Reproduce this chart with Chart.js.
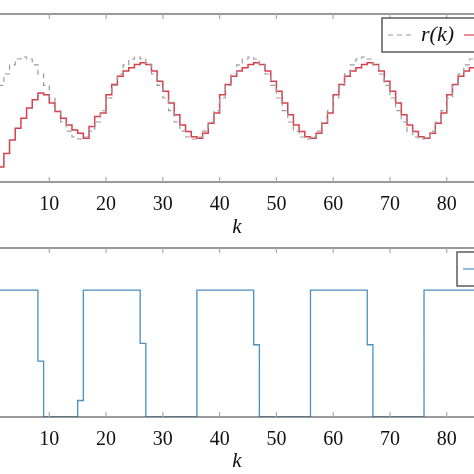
<!DOCTYPE html>
<html>
<head>
<meta charset="utf-8">
<script src="https://cdn.jsdelivr.net/npm/chart.js@4"></script>
<style>
  body { margin: 0; background: #fff; }
  canvas { display: block; }
</style>
</head>
<body>
<div style="width:474px;height:240px"><canvas id="top"></canvas></div>
<div style="width:474px;height:234px"><canvas id="bottom"></canvas></div>
<script>
// sample index
const k = []
for (let i = 0; i <= 86; i++) k.push(i)
// reference r(k), one period of 20 samples, repeated
const rCycle = [0.5, 0.575, 0.643, 0.697, 0.732, 0.744, 0.732, 0.697, 0.643, 0.575,
                0.5, 0.425, 0.357, 0.303, 0.268, 0.256, 0.268, 0.303, 0.357, 0.425]
const r = k.map(i => rCycle[i % 20])
// output y(k): start-up then steady cycle
const yStart = [0.05, 0.09, 0.17, 0.25, 0.32, 0.38, 0.44, 0.49, 0.53, 0.52,
                0.47, 0.42, 0.38, 0.34, 0.31, 0.29, 0.26, 0.33, 0.39]
const yCycle = [0.52, 0.58, 0.63, 0.66, 0.68, 0.70, 0.71, 0.70, 0.66, 0.60,
                0.54, 0.47, 0.40, 0.34, 0.30, 0.27, 0.26, 0.29, 0.35, 0.41]
const y = k.map(i => i < yStart.length ? yStart[i] : yCycle[(i - 20 + 200) % 20])
// input u(k)
const u = [1, 1, 1, 1, 1, 1, 1, 1, 0.44, 0, 0, 0, 0, 0, 0, 0.13, 1, 1, 1, 1,
           1, 1, 1, 1, 1, 1, 0.58, 0, 0, 0, 0, 0, 0, 0, 0, 0, 1, 1, 1, 1,
           1, 1, 1, 1, 1, 1, 0.57, 0, 0, 0, 0, 0, 0, 0, 0, 0, 1, 1, 1, 1,
           1, 1, 1, 1, 1, 1, 0.57, 0, 0, 0, 0, 0, 0, 0, 0, 0, 1, 1, 1, 1,
           1, 1, 1, 1, 1, 1, 1]
const xTicks = [10, 20, 30, 40, 50, 60, 70, 80]

const serif = '"Liberation Serif", "DejaVu Serif", serif'
const pts = arr => arr.map((v, i) => ({ x: k[i], y: v }))

// frame with inward ticks and a hand drawn legend
function framePlugin(legend) {
  return {
    id: 'frame',
    afterDraw(chart) {
      const { ctx, chartArea: a, scales } = chart
      ctx.save()
      ctx.strokeStyle = '#555'
      ctx.lineWidth = 1.2
      ctx.strokeRect(a.left - 2, a.top, a.right - a.left + 10, a.bottom - a.top)
      ctx.strokeStyle = '#aaa'
      xTicks.forEach(t => {
        const px = scales.x.getPixelForValue(t)
        ctx.beginPath()
        ctx.moveTo(px, a.top); ctx.lineTo(px, a.top + 5)
        ctx.moveTo(px, a.bottom); ctx.lineTo(px, a.bottom - 5)
        ctx.stroke()
      })
      // legend box
      ctx.fillStyle = '#fff'
      ctx.strokeStyle = '#333'
      ctx.fillRect(legend.x, a.top + 4, 200, 34)
      ctx.strokeRect(legend.x, a.top + 4, 200, 34)
      const cy = a.top + 21
      legend.items.forEach(it => {
        ctx.strokeStyle = it.color
        ctx.lineWidth = 1.2
        ctx.setLineDash(it.dash || [])
        ctx.beginPath()
        ctx.moveTo(it.x, cy); ctx.lineTo(it.x + 26, cy)
        ctx.stroke()
        ctx.setLineDash([])
        if (it.text) {
          ctx.fillStyle = '#111'
          ctx.font = 'italic 22px ' + serif
          ctx.textBaseline = 'middle'
          ctx.fillText(it.text, it.x + 33, cy)
        }
      })
      ctx.restore()
    }
  }
}

function xScale(h) {
  return {
    type: 'linear', min: 1.32, max: 84.8,
    grid: { display: false }, border: { display: false },
    afterBuildTicks: s => { s.ticks = xTicks.map(v => ({ value: v })) },
    afterFit: s => { s.height = h },
    ticks: { color: '#111', font: { family: serif, size: 20 }, padding: 3, maxRotation: 0 },
    title: { display: true, text: 'k', color: '#111', font: { family: serif, size: 21, style: 'italic' }, padding: 0 }
  }
}

new Chart(document.getElementById('top'), {
  type: 'line',
  data: {
    datasets: [
      { label: 'r(k)', data: pts(r), stepped: true, borderColor: '#9a9a9a', borderDash: [5, 4], borderWidth: 1.2, pointRadius: 0 },
      { label: 'y(k)', data: pts(y), stepped: true, borderColor: '#d8404c', borderWidth: 1.5, pointRadius: 0 }
    ]
  },
  options: {
    responsive: true, maintainAspectRatio: false, animation: false,
    layout: { padding: { top: 14, left: 0, right: 0 } },
    plugins: { legend: { display: false }, tooltip: { enabled: false } },
    scales: { x: xScale(58), y: { display: false, min: 0, max: 1 } }
  },
  plugins: [framePlugin({ x: 382, items: [
    { x: 388, color: '#9a9a9a', dash: [5, 4], text: 'r(k)' },
    { x: 464, color: '#d8404c' }
  ] })]
})

new Chart(document.getElementById('bottom'), {
  type: 'line',
  data: {
    datasets: [
      { label: 'u(k)', data: pts(u), stepped: true, borderColor: '#4a8fc0', borderWidth: 1.3, pointRadius: 0 }
    ]
  },
  options: {
    responsive: true, maintainAspectRatio: false, animation: false,
    layout: { padding: { top: 8, left: 0, right: 0 } },
    plugins: { legend: { display: false }, tooltip: { enabled: false } },
    scales: { x: xScale(57), y: { display: false, min: 0, max: 1.333 } }
  },
  plugins: [framePlugin({ x: 457, items: [
    { x: 463, color: '#4a8fc0' }
  ] })]
})
</script>
</body>
</html>
